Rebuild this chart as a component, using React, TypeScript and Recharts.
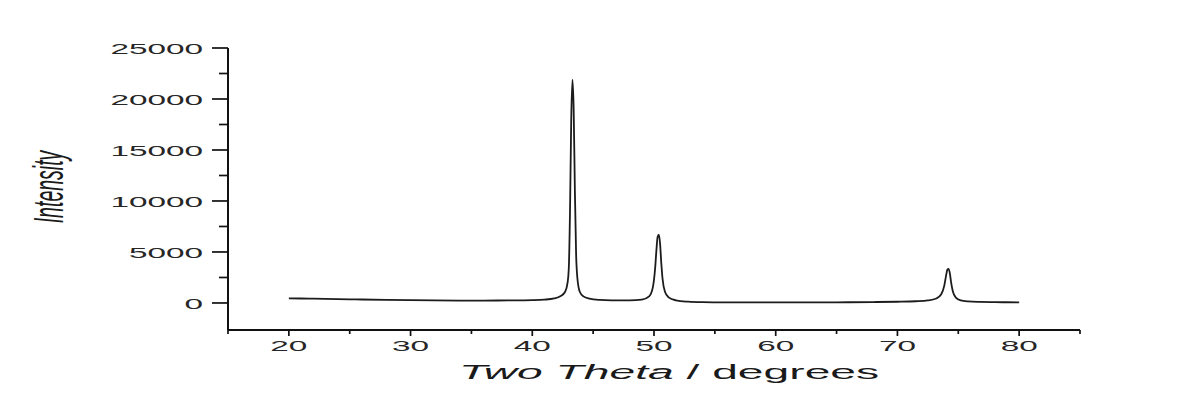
import React from 'react';
import { LineChart, Line, XAxis, YAxis } from 'recharts';

// diffraction pattern
const twoTheta = [
  20, 21, 22, 23, 24, 25, 26, 28, 30, 32, 34, 36, 38, 40, 41, 41.8, 42.3, 42.7, 42.9,
  43.0, 43.1, 43.2, 43.3, 43.4, 43.5, 43.6, 43.7, 43.9, 44.2, 44.7, 45.5, 46.5, 48, 49,
  49.6, 49.9, 50.1, 50.2, 50.3, 50.4, 50.5, 50.6, 50.7, 50.9, 51.2, 51.8, 52.8, 54, 56,
  58, 60, 62, 64, 66, 68, 70, 71.5, 72.5, 73.2, 73.6, 73.85, 74.0, 74.1, 74.2, 74.3,
  74.4, 74.55, 74.8, 75.2, 75.8, 76.8, 78, 79, 80,
];
const intensity = [
  450, 440, 420, 400, 380, 360, 340, 300, 270, 250, 240, 240, 250, 280, 330, 450, 650, 1100, 2000,
  3400, 9000, 18000, 21900, 19000, 11000, 4800, 2500, 1100, 650, 420, 300, 260, 260, 330,
  650, 1500, 3500, 5200, 6500, 6700, 5800, 3900, 2400, 1100, 550, 260, 130, 80, 60,
  50, 50, 50, 60, 70, 90, 120, 170, 250, 440, 850, 1700, 2700, 3250, 3350, 2950,
  2100, 1150, 520, 250, 150, 100, 80, 70, 60,
];

const xTicks = [15, 20, 25, 30, 35, 40, 45, 50, 55, 60, 65, 70, 75, 80, 85];
const yTicks = [0, 2500, 5000, 7500, 10000, 12500, 15000, 17500, 20000, 22500, 25000];

const data = twoTheta.map((t, i) => ({ t, v: intensity[i] }));

const FONT = '"Liberation Sans", Arial, sans-serif';
const STRETCH = 2.15;

const YTick = (props: any) => {
  const { x, y, payload } = props;
  const major = payload.value % 5000 === 0;
  return (
    <g>
      <line x1={x - (major ? 16 : 9)} x2={x} y1={y} y2={y} stroke="#111" strokeWidth={1.7} />
      {major && (
        <text
          transform={`translate(${x - 25},${y}) scale(${STRETCH},1)`}
          textAnchor="end"
          dy="0.36em"
          fontSize={15.5}
          fontFamily={FONT}
          fill="#262626"
        >
          {payload.value}
        </text>
      )}
    </g>
  );
};

const XTick = (props: any) => {
  const { x, y, payload } = props;
  const major = payload.value % 10 === 0;
  return (
    <g>
      <line x1={x} x2={x} y1={y} y2={y + (major ? 6 : 4)} stroke="#111" strokeWidth={1.7} />
      {major && (
        <text
          transform={`translate(${x},${y + 21}) scale(${STRETCH},1)`}
          textAnchor="middle"
          fontSize={15.5}
          fontFamily={FONT}
          fill="#262626"
        >
          {payload.value}
        </text>
      )}
    </g>
  );
};

const XTitle = (props: any) => {
  const vb = props.viewBox ?? { x: 228, y: 330, width: 852, height: 70 };
  const cx = vb.x + vb.width / 2 + 15;
  return (
    <text
      transform={`translate(${cx},${vb.y + 49}) scale(2.2,1)`}
      textAnchor="middle"
      fontSize={21}
      fontFamily={FONT}
      fill="#1a1a1a"
    >
      <tspan fontStyle="italic">Two Theta</tspan>
      <tspan> / degrees</tspan>
    </text>
  );
};

const YTitle = () => (
  <text
    transform={`translate(55,179) scale(${STRETCH},1) rotate(-90)`}
    textAnchor="middle"
    fontSize={19.5}
    fontStyle="italic"
    fontFamily={FONT}
    fill="#1a1a1a"
  >
    Intensity
  </text>
);

export default function App() {
  return (
    <LineChart width={1166} height={400} data={data} margin={{ top: 40, right: 94, bottom: 8, left: 0 }}>
      <XAxis
        dataKey="t"
        type="number"
        domain={[15, 85]}
        ticks={xTicks}
        interval={0}
        allowDataOverflow
        tickSize={0}
        tickMargin={0}
        tickLine={false}
        tick={<XTick />}
        axisLine={{ stroke: '#111', strokeWidth: 2 }}
        height={70}
        label={{ content: (p: any) => <XTitle {...p} /> }}
      />
      <YAxis
        type="number"
        domain={[-2650, 25000]}
        ticks={yTicks}
        interval={0}
        allowDataOverflow
        tickSize={0}
        tickMargin={0}
        tickLine={false}
        tick={<YTick />}
        axisLine={{ stroke: '#111', strokeWidth: 2 }}
        width={220}
        label={{ content: () => <YTitle /> }}
      />
      <Line
        type="monotone"
        dataKey="v"
        stroke="#1c1c1c"
        strokeWidth={1.8}
        dot={false}
        isAnimationActive={false}
      />
    </LineChart>
  );
}
